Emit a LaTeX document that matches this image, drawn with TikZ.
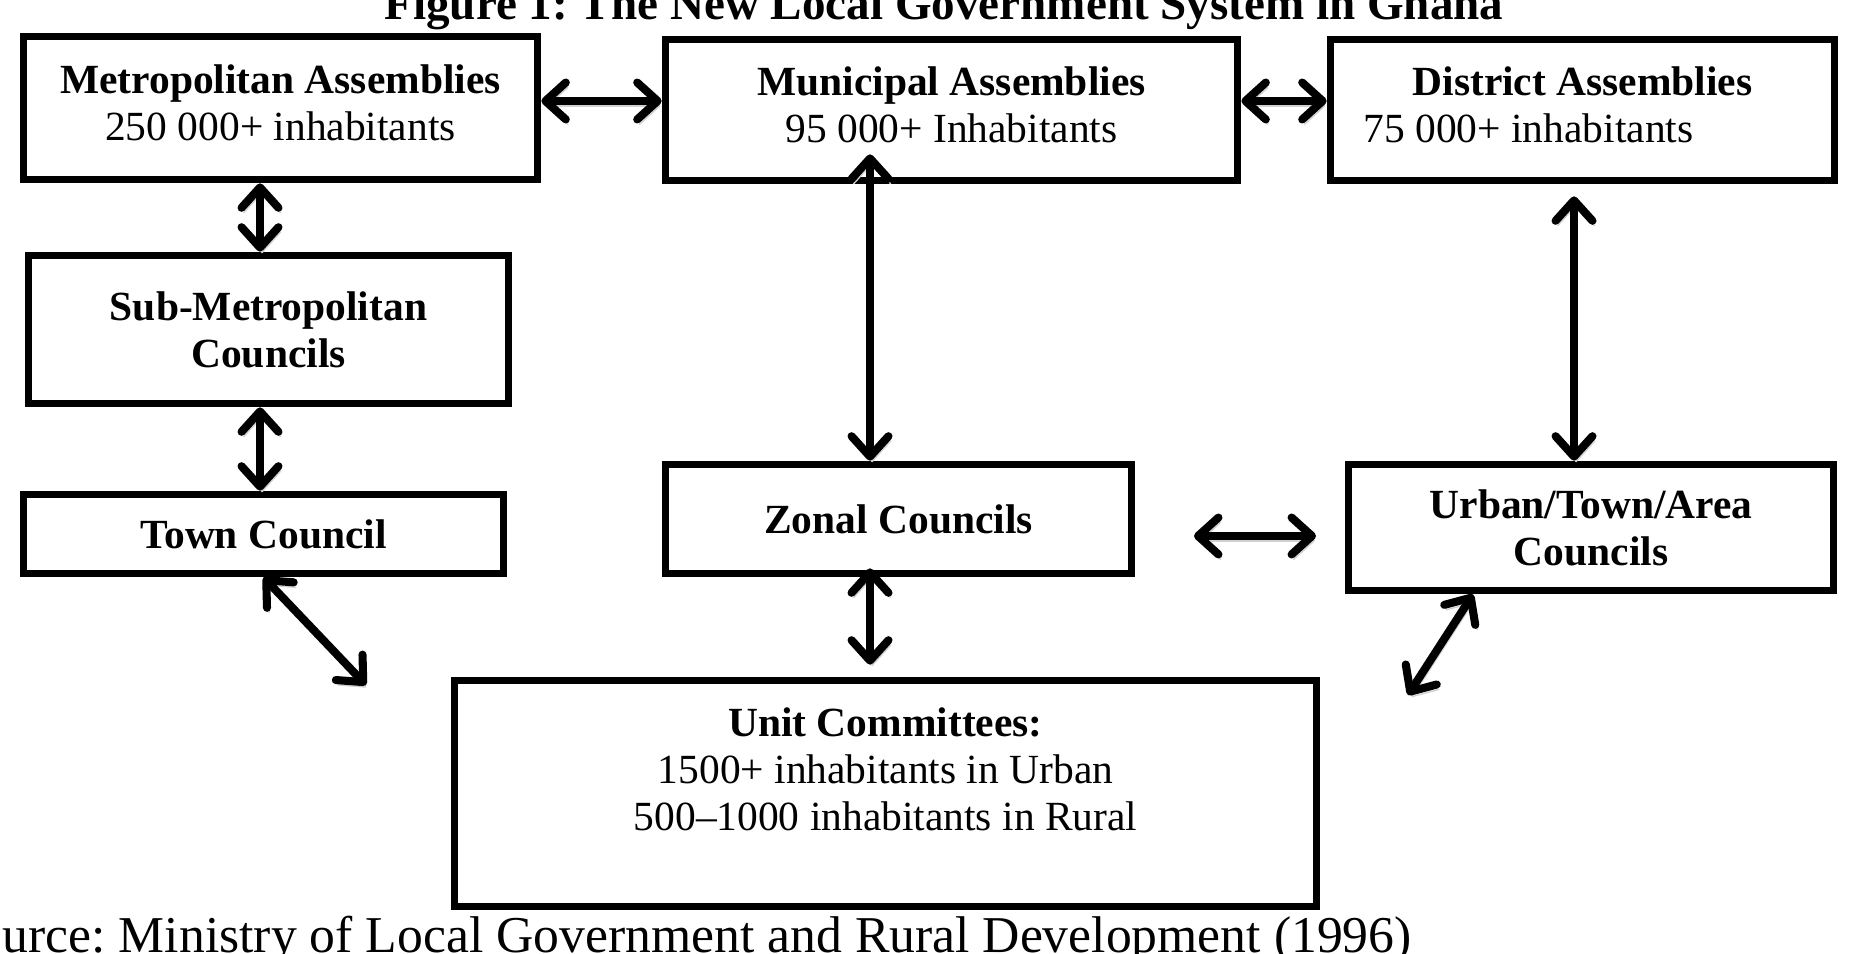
\documentclass[tikz,border=0pt]{standalone}
\usepackage{fontspec}
\setmainfont{Liberation Serif}
\usetikzlibrary{arrows.meta,calc,positioning}

\begin{document}
\frenchspacing
\begin{tikzpicture}[>={Straight Barb[length=5.8pt,width=10.5pt,round]},
    box/.style={draw,line width=2.2pt,rectangle,inner sep=0pt,align=center,
      font=\fontsize{11.8}{13.4}\selectfont},
    link/.style={<->,line width=2.3pt,
      preaction={draw=black!18,transform canvas={shift={(0.6pt,-1.4pt)}}}}]
  \useasboundingbox (0,0) rectangle (18.63,-9.53);

  \node[anchor=base,font=\fontsize{13.4}{16}\selectfont\bfseries] (title) at (9.44,-0.20)
    {Figure 1: The New Local Government System in Ghana};

  % assemblies
  \node[box,minimum width=5.14cm,minimum height=1.43cm,text depth=0.1cm] (metro) at (2.805,-1.08)
    {\textbf{Metropolitan Assemblies}\\250 000+ inhabitants};
  \node[box,minimum width=5.72cm,minimum height=1.41cm,text depth=0.1cm] (muni) at (9.515,-1.10)
    {\textbf{Municipal Assemblies}\\95 000+ Inhabitants};
  \node[box,minimum width=5.04cm,minimum height=1.41cm,text depth=0.1cm] (district) at (15.825,-1.10)
    {\textbf{District Assemblies}\\\hspace*{-1.08cm}75 000+ inhabitants};

  % councils
  \node[box,minimum width=4.80cm,minimum height=1.48cm] (submetro) at (2.685,-3.295)
    {\textbf{Sub-Metropolitan}\\\textbf{Councils}};
  \node[box,minimum width=4.80cm,minimum height=0.79cm] (town) at (2.635,-5.34)
    {\textbf{Town Council}};
  \node[box,minimum width=4.66cm,minimum height=1.09cm] (zonal) at (8.985,-5.19)
    {\textbf{Zonal Councils}};
  \node[box,minimum width=4.85cm,minimum height=1.26cm] (urban) at (15.91,-5.275)
    {\textbf{Urban/Town/Area}\\\textbf{Councils}};

  \node[box,minimum width=8.62cm,minimum height=2.26cm,text depth=0.48cm] (unit) at (8.855,-7.935)
    {\textbf{Unit Committees:}\\1500+ inhabitants in Urban\\500--1000 inhabitants in Rural};

  \node[anchor=base east,font=\fontsize{14.7}{18}\selectfont] (source) at (14.24,-9.52)
    {Source: Ministry of Local Government and Rural Development (1996)};

  % links
  \coordinate (ty) at (0,-1.01);
  \draw[link] (metro.east |- ty) -- (muni.west |- ty);
  \draw[link] (muni.east |- ty) -- (district.west |- ty);

  \coordinate (lx) at (2.60,0);
  \draw[link] (metro.south -| lx) -- (submetro.north -| lx);
  \draw[link] (submetro.south -| lx) -- (town.north -| lx);
  \coordinate (townend) at (3.66,-6.85);
  \draw[link] (town.south) -- (townend);

  \coordinate (mx) at (8.70,0);
  \draw[link,shorten <=-0.3cm] (muni.south -| mx) -- (zonal.north -| mx);
  \draw[link,shorten <=-0.09cm,shorten >=0.12cm] (zonal.south -| mx) -- (unit.north -| mx);

  \coordinate (dx) at (15.74,0);
  \draw[link,shorten <=0.12cm] (district.south -| dx) -- (urban.north -| dx);
  \coordinate (ux) at (14.73,0);
  \coordinate (urbanend) at (14.08,-6.95);
  \draw[link] (urban.south -| ux) -- (urbanend);

  \coordinate (fl) at (11.94,-5.36);
  \coordinate (fr) at (13.16,-5.36);
  \draw[link] (fl) -- (fr);
\end{tikzpicture}
\end{document}
